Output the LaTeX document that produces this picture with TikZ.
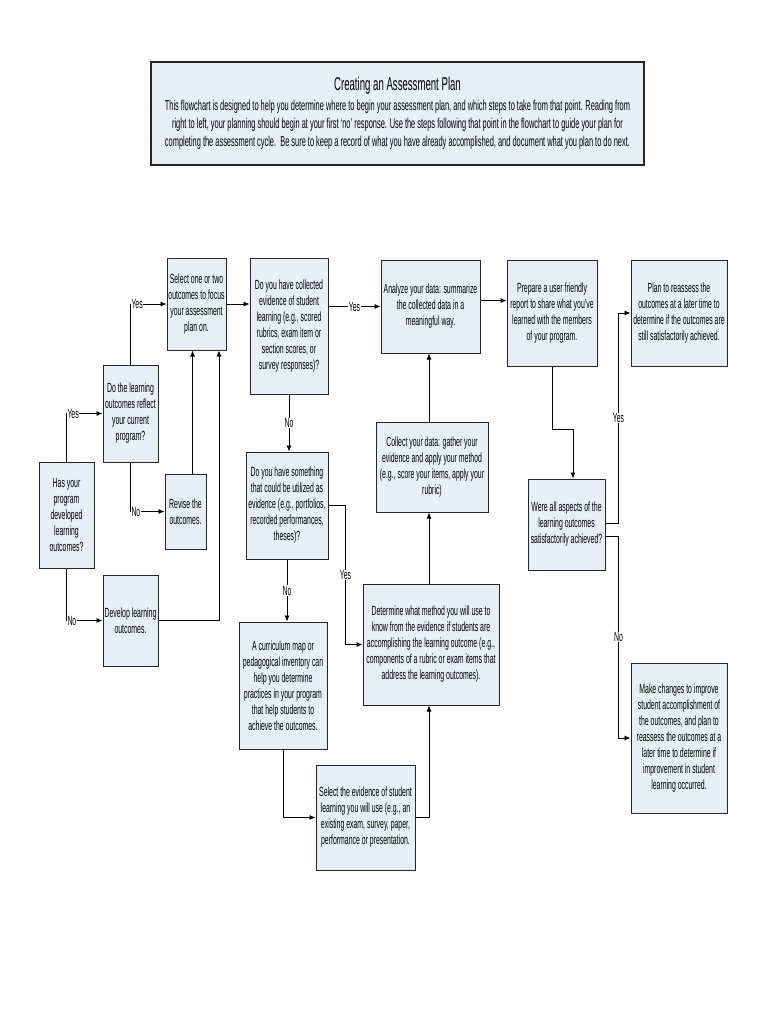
\documentclass[tikz,border=0pt]{standalone}
\usepackage{fontspec}
\setmainfont{Liberation Sans}[FakeStretch=0.52]
\usetikzlibrary{arrows.meta}
\definecolor{boxfill}{RGB}{232,238,247}
\begin{document}
\begin{tikzpicture}[x=1pt,y=-1pt,
    box/.style={draw=black!85, line width=1pt, fill=boxfill, align=center, inner sep=1pt,
        font=\fontsize{13.3}{16}\selectfont},
    arr/.style={-{Latex[length=6pt,width=5pt]}, line width=0.8pt},
    lbl/.style={fill=white, inner sep=0.6pt, font=\fontsize{13.3}{16}\selectfont}]
        \fill[white] (0,0) rectangle (768,1024);
        \useasboundingbox (0,0) rectangle (768,1024);

        % title
        \node[box, line width=1.3pt, minimum width=493pt, minimum height=103pt,
            font=\fontsize{14.3}{18}\selectfont] (title) at (397.5,113.5)
            {{\fontsize{18.5}{22}\selectfont Creating an Assessment Plan}\\[2pt]
            This flowchart is designed to help you determine where to begin your assessment plan, and which steps to take from that point. Reading from\\
            right to left, your planning should begin at your first `no' response. Use the steps following that point in the flowchart to guide your plan for\\
            completing the assessment cycle.\ \ Be sure to keep a record of what you have already accomplished, and document what you plan to do next.};

        % left column
        \node[box, minimum width=55pt, minimum height=106pt] (has) at (66.5,515)
            {Has your\\program\\developed\\learning\\outcomes?};
        \node[box, minimum width=55pt, minimum height=97pt] (reflect) at (130.5,413.5)
            {Do the learning\\outcomes reflect\\your current\\program?};
        \node[box, minimum width=55pt, minimum height=91pt] (develop) at (130.5,620.5)
            {Develop learning\\outcomes.};
        \node[box, minimum width=41pt, minimum height=75pt] (revise) at (185.5,511.5)
            {Revise the\\outcomes.};
        \node[box, minimum width=59pt, minimum height=92pt] (focus) at (196.5,304)
            {Select one or two\\outcomes to focus\\your assessment\\plan on.};

        % middle
        \node[box, minimum width=78pt, minimum height=136pt] (collected) at (289,326)
            {Do you have collected\\evidence of student\\learning (e.g., scored\\rubrics, exam item or\\section scores, or\\survey responses)?};
        \node[box, minimum width=82pt, minimum height=107pt] (something) at (287,505.5)
            {Do you have something\\that could be utilized as\\evidence (e.g., portfolios,\\recorded performances,\\theses)?};
        \node[box, minimum width=88pt, minimum height=127pt] (curric) at (283,685.5)
            {A curriculum map or\\pedagogical inventory can\\help you determine\\practices in your program\\that help students to\\achieve the outcomes.};
        \node[box, minimum width=99pt, minimum height=105pt] (evidence) at (365.5,817.5)
            {Select the evidence of student\\learning you will use (e.g., an\\existing exam, survey, paper,\\performance or presentation.};
        \node[box, minimum width=136pt, minimum height=121pt] (method) at (431,644.5)
            {Determine what method you will use to\\know from the evidence if students are\\accomplishing the learning outcome (e.g.,\\components of a rubric or exam items that\\address the learning outcomes).};
        \node[box, minimum width=112pt, minimum height=90pt] (gather) at (432,467)
            {Collect your data: gather your\\evidence and apply your method\\(e.g., score your items, apply your\\rubric)};
        \node[box, minimum width=99pt, minimum height=93pt] (analyze) at (430.5,306.5)
            {Analyze your data: summarize\\the collected data in a\\meaningful way.};

        % right
        \node[box, minimum width=90pt, minimum height=106pt] (report) at (552,313)
            {Prepare a user friendly\\report to share what you've\\learned with the members\\of your program.};
        \node[box, minimum width=96pt, minimum height=106pt] (reassess) at (679,313)
            {Plan to reassess the\\outcomes at a later time to\\determine if the outcomes are\\still satisfactorily achieved.};
        \node[box, minimum width=77pt, minimum height=91pt] (achieved) at (566.5,524.5)
            {Were all aspects of the\\learning outcomes\\satisfactorily achieved?};
        \node[box, minimum width=96pt, minimum height=150pt] (improve) at (679,738)
            {Make changes to improve\\student accomplishment of\\the outcomes, and plan to\\reassess the outcomes at a\\later time to determine if\\improvement in student\\learning occurred.};

        % connectors
        \draw[arr] (has.north) |- (reflect.west) node[pos=0.5, lbl, anchor=west] {Yes};
        \draw[arr] (has.south) |- (develop.west) node[pos=0.5, lbl, anchor=west] {No};
        \draw[arr] (reflect.north) |- (focus.west) node[pos=0.5, lbl, anchor=west] {Yes};
        \draw[arr] (reflect.south) |- (revise.west) node[pos=0.5, lbl, anchor=west] {No};
        \draw[arr] ([xshift=7pt]revise.north) -- ([xshift=7pt]revise.north |- focus.south);
        \draw[arr] (develop.east) -| ([xshift=22.5pt]focus.south);
        \draw[arr] (focus.east) -- (focus.east -| collected.west);
        \draw[arr] (analyze.west -| collected.east) -- (analyze.west) node[midway, lbl] {Yes};
        \draw[arr] (collected.south) -- (collected.south |- something.north) node[midway, lbl] {No};
        \draw[arr] (something.south) -- (something.south |- curric.north) node[midway, lbl] {No};
        \draw[arr] (something.east) -- ++(17,0) |- (method.west) node[pos=0.25, lbl] {Yes};
        \draw[arr] (curric.south) |- (evidence.west);
        \draw[arr] (evidence.east) -| ([xshift=-2pt]method.south);
        \draw[arr] ([xshift=-2pt]method.north) -- ([xshift=-2pt]method.north |- gather.south);
        \draw[arr] ([xshift=-3pt]gather.north) -- ([xshift=-3pt]gather.north |- analyze.south);
        \draw[arr] ([yshift=6pt]analyze.east) -- ([yshift=6pt]analyze.east -| report.west);
        \draw[arr] (report.south) -- ++(0,63) -| ([xshift=6.5pt]achieved.north);
        \draw[arr] ([yshift=1pt]achieved.east) -- ++(13,0) |- (reassess.west) node[pos=0.25, lbl] {Yes};
        \draw[arr] ([yshift=-12pt]achieved.east) -- ++(13,0) |- (improve.west) node[pos=0.25, lbl] {No};
    \end{tikzpicture}
\end{document}
